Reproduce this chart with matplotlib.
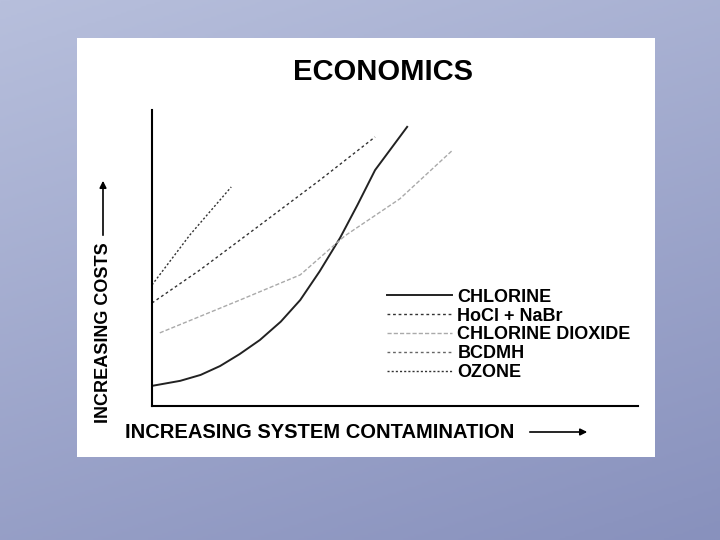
import numpy as np
import matplotlib.pyplot as plt
from matplotlib.colors import LinearSegmentedColormap
from matplotlib.patches import FancyArrowPatch

plt.rcParams['font.family'] = ['Liberation Sans', 'DejaVu Sans']

# values in percent of axis span
chlor_x = [0, 5.8, 10, 14, 18, 22.2, 26.5, 30.5, 34.5, 38.7, 42.3, 45.9, 49.2, 52.5]
chlor_y = [6.8, 8.5, 10.5, 13.5, 17.5, 22.3, 28.5, 35.8, 45.5, 56.8, 68, 79.7, 87, 94.3]
hocl_x = [0, 9.9, 22.2, 34.6, 45.9]
hocl_y = [34.8, 46, 61.1, 76.4, 90.9]
clo2_x = [1.6, 18.1, 30.5, 39.7, 51, 61.9]
clo2_y = [24.7, 35.8, 44.3, 57.5, 70, 86.5]
ozone_x = [0, 7.8, 16.3]
ozone_y = [40.9, 57.8, 74]

fig = plt.figure(figsize=(7.2, 5.4), dpi=100)

# slide background
bg = fig.add_axes([0, 0, 1, 1])
g = np.linspace(0, 1, 256)
grad = np.outer(np.ones(256), g) * 0.3 + np.outer(g, np.ones(256)) * 0.7
bg.imshow(grad, cmap=LinearSegmentedColormap.from_list('slide', ['#b7bfdc', '#8891bd']),
          aspect='auto', extent=[0, 1, 0, 1])
bg.axis('off')

# white panel
panel = fig.add_axes([77/720, 1 - 457/540, (655-77)/720, (457-38)/540])
panel.set_facecolor('white')
panel.set_xticks([]); panel.set_yticks([])
for s in panel.spines.values():
    s.set_visible(False)

ax = fig.add_axes([152/720, 1 - 406/540, (638-152)/720, 296/540])
ax.plot(chlor_x, chlor_y, color='#222222', lw=1.4, label='CHLORINE')
ax.plot(hocl_x, hocl_y, color='#333333', lw=1, ls=(0, (2, 2)), label='HoCl + NaBr')
ax.plot(clo2_x, clo2_y, color='#aaaaaa', lw=1, ls=(0, (3, 1.5)), label='CHLORINE DIOXIDE')
ax.plot([], [], color='#666666', lw=1, ls=(0, (2, 2)), label='BCDMH')
ax.plot(ozone_x, ozone_y, color='#333333', lw=1, ls=(0, (1.5, 1.5)), label='OZONE')
ax.set_xlim(0, 100)
ax.set_ylim(0, 100)
ax.set_xticks([]); ax.set_yticks([])
ax.spines['top'].set_visible(False)
ax.spines['right'].set_visible(False)
ax.spines['left'].set_linewidth(1.5)
ax.spines['bottom'].set_linewidth(1.5)
ax.set_facecolor('white')
ax.legend(loc='lower right', frameon=False, handlelength=3.6,
          handletextpad=0.3, labelspacing=0.1, borderaxespad=0.0,
          bbox_to_anchor=(1.0, 0.06), prop={'weight': 'bold', 'size': 13})

fig.text(383/720, 1 - 72/540, 'ECONOMICS', ha='center', va='center',
         fontsize=21, fontweight='bold')
fig.text(125/720, 1 - 432/540, 'INCREASING SYSTEM CONTAMINATION', ha='left',
         va='center', fontsize=14.5, fontweight='bold')
fig.text(103/720, 1 - 333/540, 'INCREASING COSTS', rotation=90, ha='center',
         va='center', fontsize=13, fontweight='bold')
arrow = dict(arrowstyle='-|>', color='black', lw=1.2, mutation_scale=10)
fig.add_artist(FancyArrowPatch((527/720, 1 - 432/540), (590/720, 1 - 432/540),
                               transform=fig.transFigure, **arrow))
fig.add_artist(FancyArrowPatch((103/720, 1 - 238/540), (103/720, 1 - 178/540),
                               transform=fig.transFigure, **arrow))

fig.savefig('out.png', dpi=100)
